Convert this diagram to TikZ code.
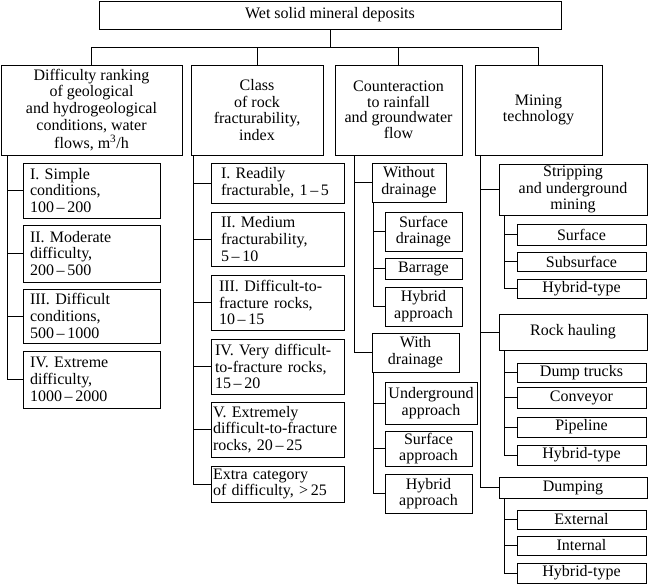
\documentclass[tikz,border=0pt]{standalone}
\usepackage{fontspec}
\setmainfont{Liberation Serif}
\usetikzlibrary{calc}

\begin{document}
\begin{tikzpicture}[x=1pt,y=-1pt,line width=0.8pt,
  box/.style={draw,inner xsep=1pt,inner ysep=0pt,align=center,
    font=\fontsize{16}{16.7}\selectfont},
  pad/.style={align=left,text width=\w-2*#1}]
\useasboundingbox (0,0) rectangle (652,585);
% name, options, x1, y1, x2, y2, text
\def\bx#1#2#3#4#5#6#7{%
  \pgfmathsetmacro\w{#5-#3}\pgfmathsetmacro\h{#6-#4}%
  \node[box,minimum width=\w,minimum height=\h,#2] (#1) at ({(#3+#5)/2},{(#4+#6)/2}) {#7};}

\bx{r}{}{99}{1}{561}{29}{Wet solid mineral deposits}

\bx{a1}{}{1}{65}{182}{155}{Difficulty ranking\\of geological\\and hydrogeological\\conditions, water\\[1.5pt]flows, m\textsuperscript{3}/h}
\bx{a2}{}{191}{65}{323}{155}{Class\\of rock\\fracturability,\\index}
\bx{a3}{font={\fontsize{16}{15.5}\selectfont}}{335}{65}{462}{155}{Counteraction\\to rainfall\\and groundwater\\flow}
\bx{a4}{}{475}{65}{602}{155}{Mining\\technology}

\bx{b11}{pad=7}{23}{163}{160}{218}{I. Simple\\conditions,\\100\,–\,200}
\bx{b12}{pad=7}{23}{225}{160}{282}{II. Moderate\\difficulty,\\200\,–\,500}
\bx{b13}{pad=7}{23}{289}{160}{343}{III. Difficult\\conditions,\\500\,–\,1000}
\bx{b14}{pad=7}{23}{351}{160}{408}{IV. Extreme\\difficulty,\\1000\,–\,2000}

\bx{b21}{pad=10}{211}{163}{344}{203}{I. Readily\\fracturable, 1\,–\,5}
\bx{b22}{pad=10}{211}{212}{344}{266}{II. Medium\\fracturability,\\5\,–\,10}
\bx{b23}{pad=8}{211}{275}{344}{330}{III. Difficult-to-\\fracture rocks,\\10\,–\,15}
\bx{b24}{pad=4}{211}{339}{344}{394}{IV. Very difficult-\\to-fracture rocks,\\15\,–\,20}
\bx{b25}{pad=2}{211}{402}{344}{457}{V. Extremely\\difficult-to-fracture\\rocks, 20\,–\,25}
\bx{b26}{pad=2}{211}{466}{344}{502}{Extra category\\of difficulty, >\,25}

\bx{c31}{}{372}{163}{446}{202}{Without\\drainage}
\bx{d311}{}{385}{212}{462}{251}{Surface\\drainage}
\bx{d312}{}{385}{258}{462}{279}{Barrage}
\bx{d313}{}{385}{287}{462}{326}{Hybrid\\approach}
\bx{c32}{}{372}{333}{459}{372}{With\\drainage}
\bx{d321}{}{385}{382}{477}{424}{Underground\\approach}
\bx{d322}{}{385}{431}{472}{466}{Surface\\approach}
\bx{d323}{}{385}{474}{472}{513}{Hybrid\\approach}

\bx{c41}{}{499}{164}{647}{215}{Stripping\\and underground\\mining}
\bx{d411}{}{517}{224}{646}{245}{Surface}
\bx{d412}{}{517}{252}{646}{271}{Subsurface}
\bx{d413}{}{517}{279}{646}{298}{Hybrid-type}
\bx{c42}{}{499}{314}{647}{350}{Rock hauling}
\bx{d421}{}{517}{363}{646}{382}{Dump trucks}
\bx{d422}{}{517}{387}{646}{408}{Conveyor}
\bx{d423}{}{517}{417}{646}{437}{Pipeline}
\bx{d424}{}{517}{445}{646}{465}{Hybrid-type}
\bx{c43}{}{499}{477}{647}{498}{Dumping}
\bx{d431}{}{517}{510}{646}{529}{External}
\bx{d432}{}{517}{536}{646}{555}{Internal}
\bx{d433}{}{517}{563}{646}{583}{Hybrid-type}

\coordinate (bar) at (0,47);
\draw (r.south) -- (r.south |- bar);
\draw (a1.north) -- (a1.north |- bar) -- (a4.north |- bar) -- (a4.north);
\draw (a2.north) -- (a2.north |- bar);
\draw (a3.north) -- (a3.north |- bar);

\foreach \i in {1,...,4} \draw ([xshift=7]a1.south west) |- (b1\i.west);
\foreach \i in {1,...,6} \draw ([xshift=3]a2.south west) |- (b2\i.west);
\foreach \i in {1,2} \draw ([xshift=20]a3.south west) |- (c3\i.west);
\foreach \i in {1,2,3} {
  \draw ([xshift=2]c31.south west) |- (d31\i.west);
  \draw ([xshift=2]c32.south west) |- (d32\i.west);
  \draw ([xshift=6]c41.south west) |- (d41\i.west);
  \draw ([xshift=6]c43.south west) |- (d43\i.west);
  \draw ([xshift=6]a4.south west) |- (c4\i.west);
}
\foreach \i in {1,...,4} \draw ([xshift=6]c42.south west) |- (d42\i.west);
\end{tikzpicture}
\end{document}
